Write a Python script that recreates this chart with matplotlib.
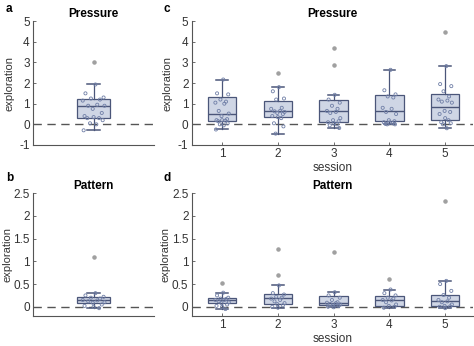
import matplotlib.pyplot as plt

plt.rcParams['font.family'] = ['Liberation Sans', 'DejaVu Sans']

# ---------- data ----------
sessions = [1, 2, 3, 4, 5]

# box stats: [whislo, q1, med, q3, whishi]
press_all_stats = [-0.29, 0.30, 0.90, 1.24, 1.93]
press_all_pts = [1.93, 1.5, 1.3, 1.25, 1.2, 1.15, 0.95, 0.9, 0.9, 0.75, 0.55, 0.4,
                 0.35, 0.3, 0.3, 0.2, 0.05, 0.0, -0.29]
press_all_fliers = [3.0]

press_stats = [
    [-0.25, 0.17, 0.52, 1.30, 2.17],
    [-0.45, 0.35, 0.63, 1.11, 1.80],
    [-0.18, 0.13, 0.63, 1.20, 1.43],
    [0.00, 0.16, 0.66, 1.42, 2.64],
    [-0.19, 0.23, 0.84, 1.46, 2.82],
]
press_pts = [
    [2.17, 1.5, 1.45, 1.2, 1.1, 1.05, 1.0, 0.65, 0.52, 0.4, 0.25, 0.2, 0.2, 0.18, 0.15, 0.05, 0.0, -0.05, -0.25],
    [1.8, 1.6, 1.25, 1.2, 0.8, 0.75, 0.65, 0.63, 0.6, 0.55, 0.5, 0.4, 0.35, 0.3, 0.05, -0.1, -0.45],
    [1.43, 1.2, 1.05, 0.9, 0.75, 0.65, 0.6, 0.55, 0.3, 0.2, 0.15, 0.1, 0.05, 0.0, -0.05, -0.18],
    [2.64, 1.65, 1.45, 1.35, 1.3, 0.8, 0.75, 0.6, 0.5, 0.2, 0.15, 0.1, 0.08, 0.05, 0.02, 0.0, 0.0],
    [2.82, 1.95, 1.85, 1.6, 1.35, 1.2, 1.15, 1.1, 1.05, 0.65, 0.6, 0.5, 0.3, 0.2, 0.1, 0.05, 0.0, -0.19],
]
press_fliers = [[], [2.48], [3.7, 2.85], [], [4.45]]

patt_all_stats = [-0.03, 0.09, 0.14, 0.21, 0.30]
patt_all_pts = [0.3, 0.25, 0.22, 0.2, 0.18, 0.15, 0.14, 0.12, 0.1, 0.09, 0.05, 0.02, 0.0, -0.03]
patt_all_fliers = [1.1]

patt_stats = [
    [-0.05, 0.08, 0.15, 0.20, 0.31],
    [-0.02, 0.06, 0.19, 0.28, 0.47],
    [-0.01, 0.05, 0.09, 0.23, 0.32],
    [-0.02, 0.02, 0.14, 0.24, 0.38],
    [-0.03, 0.01, 0.12, 0.26, 0.57],
]
patt_pts = [
    [0.31, 0.25, 0.2, 0.18, 0.17, 0.15, 0.15, 0.12, 0.1, 0.08, 0.05, 0.02, 0.0, -0.05],
    [0.47, 0.3, 0.27, 0.22, 0.2, 0.18, 0.15, 0.12, 0.08, 0.06, 0.03, 0.0, -0.02],
    [0.32, 0.25, 0.2, 0.15, 0.1, 0.09, 0.08, 0.06, 0.05, 0.03, 0.02, 0.0, -0.01],
    [0.38, 0.3, 0.25, 0.2, 0.18, 0.15, 0.14, 0.1, 0.05, 0.02, 0.0, -0.02],
    [0.57, 0.5, 0.35, 0.26, 0.2, 0.15, 0.12, 0.1, 0.05, 0.02, 0.01, 0.0, -0.03],
]
patt_fliers = [[0.52], [1.27, 0.7], [1.2], [0.62], [2.33]]

# fixed horizontal spread of the dots
jitter = [0.02, -0.09, 0.11, -0.03, 0.07, -0.12, 0.04, -0.06, 0.12, -0.01,
          0.09, -0.1, 0.0, 0.06, -0.07, 0.1, -0.04, 0.03, -0.11, 0.08]

# ---------- style ----------
box_face = '#cfd6e5'
box_edge = '#4b5679'
dot_edge = '#6f7ea6'
flier_col = '#a0a0a0'
axis_col = '#555555'
text_col = '#333333'
fs = 8.5


def draw_box(ax, x, st, pts, fl, width, spread):
    stats = [dict(whislo=st[0], q1=st[1], med=st[2], q3=st[3], whishi=st[4], fliers=[])]
    ax.bxp(stats, positions=[x], widths=width, capwidths=width * 0.4, patch_artist=True,
           showfliers=False,
           boxprops=dict(facecolor=box_face, edgecolor=box_edge, linewidth=0.9),
           medianprops=dict(color=box_edge, linewidth=1.0),
           whiskerprops=dict(color=box_edge, linewidth=0.9),
           capprops=dict(color=box_edge, linewidth=1.1))
    xs = [x + jitter[i % len(jitter)] * spread for i in range(len(pts))]
    ax.scatter(xs, pts, s=5, facecolors='none', edgecolors=dot_edge, linewidths=0.6, zorder=3)
    if fl:
        ax.scatter([x] * len(fl), fl, s=5, color=flier_col, zorder=3)


def style_axes(ax, ylim, yticks, yticklabels, label_x):
    ax.set_ylim(ylim)
    ax.set_yticks(yticks)
    ax.set_yticklabels(yticklabels)
    for s in ['top', 'right']:
        ax.spines[s].set_visible(False)
    for s in ['left', 'bottom']:
        ax.spines[s].set_color(axis_col)
        ax.spines[s].set_linewidth(0.8)
    ax.tick_params(direction='in', length=2, width=0.6, colors=axis_col, labelsize=fs,
                   labelcolor=text_col, pad=2.5)
    ax.axhline(0, color='#555555', linestyle=(0, (6, 4)), linewidth=1.0, zorder=1)
    ax.set_ylabel('exploration', fontsize=8, color=text_col)
    ax.yaxis.set_label_coords(label_x, 0.5)


fig = plt.figure(figsize=(4.74, 3.46), dpi=100)

ax_a = fig.add_axes([0.070, 0.581, 0.255, 0.358])
ax_c = fig.add_axes([0.405, 0.581, 0.593, 0.358])
ax_b = fig.add_axes([0.070, 0.087, 0.255, 0.355])
ax_d = fig.add_axes([0.405, 0.087, 0.593, 0.355])

p_ticks = [-1, 0, 1, 2, 3, 4, 5]
p_labels = ['-1', '0', '1', '2', '3', '4', '5']
t_ticks = [0, 0.5, 1, 1.5, 2, 2.5]
t_labels = ['0', '0.5', '1', '1.5', '2', '2.5']

# a
draw_box(ax_a, 1, press_all_stats, press_all_pts, press_all_fliers, 0.27, 0.75)
ax_a.set_xlim(0.5, 1.5)
ax_a.set_xticks([])
style_axes(ax_a, (-1, 5), p_ticks, p_labels, -0.155)
ax_a.set_title('Pressure', fontsize=fs, fontweight='bold', pad=3)

# b
draw_box(ax_b, 1, patt_all_stats, patt_all_pts, patt_all_fliers, 0.27, 0.75)
ax_b.set_xlim(0.5, 1.5)
ax_b.set_xticks([])
style_axes(ax_b, (-0.2, 2.5), t_ticks, t_labels, -0.17)
ax_b.set_title('Pattern', fontsize=fs, fontweight='bold', pad=3)

# c
for i, x in enumerate(sessions):
    draw_box(ax_c, x, press_stats[i], press_pts[i], press_fliers[i], 0.51, 1.0)
ax_c.set_xlim(0.46, 5.5)
ax_c.set_xticks(sessions)
ax_c.set_xticklabels([str(s) for s in sessions])
style_axes(ax_c, (-1, 5), p_ticks, p_labels, -0.068)
ax_c.set_xlabel('session', fontsize=fs, color=text_col, labelpad=1)
ax_c.set_title('Pressure', fontsize=fs, fontweight='bold', pad=3)

# d
for i, x in enumerate(sessions):
    draw_box(ax_d, x, patt_stats[i], patt_pts[i], patt_fliers[i], 0.51, 1.0)
ax_d.set_xlim(0.46, 5.5)
ax_d.set_xticks(sessions)
ax_d.set_xticklabels([str(s) for s in sessions])
style_axes(ax_d, (-0.2, 2.5), t_ticks, t_labels, -0.075)
ax_d.set_xlabel('session', fontsize=fs, color=text_col, labelpad=1)
ax_d.set_title('Pattern', fontsize=fs, fontweight='bold', pad=3)

# panel letters
for lab, (x, y) in zip('abcd', [(0.012, 0.975), (0.012, 0.485), (0.345, 0.975), (0.345, 0.485)]):
    fig.text(x, y, lab, fontsize=fs, fontweight='bold', va='center', ha='left')

fig.savefig('out.png', dpi=100)
